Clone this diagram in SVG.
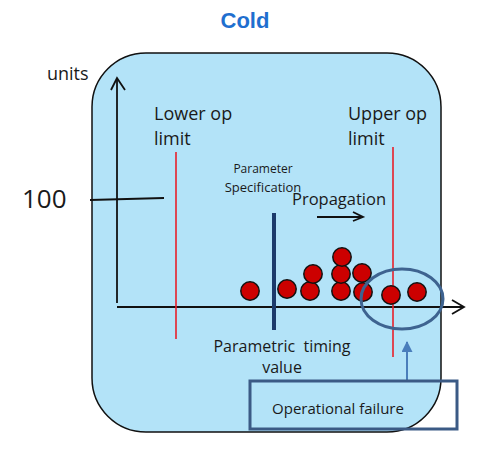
<svg xmlns="http://www.w3.org/2000/svg" width="504" height="460" viewBox="0 0 504 460">
<defs>
<style>
text{font-family:"Open Sans","Liberation Sans",sans-serif;fill:#1a1a1a}
.red{stroke:#e8202a;stroke-width:1.6;fill:none}
.ax{stroke:#111;stroke-width:1.8;fill:none}
.dot{fill:#cc0000;stroke:#111;stroke-width:1.5}
</style>
<marker id="tri" viewBox="0 0 10 10" refX="9" refY="5" markerWidth="6" markerHeight="5.5" orient="auto" markerUnits="strokeWidth">
<path d="M0,0 L10,5 L0,10 z" fill="#4a7ebb"/>
</marker>
</defs>
<rect width="504" height="460" fill="#ffffff"/>
<g id="panel">
<rect x="92" y="53" width="349" height="379" rx="54" ry="54" fill="#b3e3f8" stroke="#111" stroke-width="1.5"/>
</g>
<text id="title" x="245" y="28" text-anchor="middle" style="font-family:'Liberation Sans',sans-serif;font-weight:bold;font-size:22px;fill:#1f6fcf">Cold</text>
<g id="axes">
<line class="ax" x1="117" y1="79" x2="117" y2="303"/>
<polyline class="ax" points="111,90 117,78 125,90"/>
<line class="ax" x1="117" y1="307" x2="463" y2="307"/>
<polyline class="ax" points="452,300 464,307 452,314"/>
<text x="47" y="80" style="font-size:18px">units</text>
<text x="22" y="208" style="font-size:26px">100</text>
<line class="ax" x1="90" y1="200" x2="164" y2="198"/>
</g>
<g id="lower-limit">
<line class="red" x1="176" y1="152" x2="176" y2="339"/>
<text x="154" y="120" style="font-size:18px">Lower op</text>
<text x="154" y="145" style="font-size:18px">limit</text>
</g>
<g id="upper-limit">
<line class="red" x1="393" y1="147" x2="393" y2="357"/>
<text x="348" y="120" style="font-size:18px">Upper op</text>
<text x="348" y="145" style="font-size:18px">limit</text>
</g>
<g id="spec">
<line x1="274" y1="213" x2="274" y2="330" stroke="#1b3a6b" stroke-width="4"/>
<text x="263" y="173" text-anchor="middle" style="font-size:12px">Parameter</text>
<text x="263" y="192" text-anchor="middle" style="font-size:13px">Specification</text>
</g>
<g id="propagation">
<text x="292" y="205" style="font-size:16.5px">Propagation</text>
<line class="ax" x1="317" y1="217" x2="363" y2="217" stroke-width="1.5"/>
<polyline class="ax" points="353,212 363,217 353,221" stroke-width="1.5"/>
</g>
<g id="dots">
<circle class="dot" cx="250" cy="291" r="9.2"/>
<circle class="dot" cx="287" cy="289" r="9.2"/>
<circle class="dot" cx="310" cy="291" r="9.2"/>
<circle class="dot" cx="313" cy="274" r="9.2"/>
<circle class="dot" cx="341" cy="291" r="9.2"/>
<circle class="dot" cx="341" cy="274" r="9.2"/>
<circle class="dot" cx="342" cy="257" r="9.2"/>
<circle class="dot" cx="362" cy="273" r="9.2"/>
<circle class="dot" cx="363" cy="292" r="9.2"/>
<circle class="dot" cx="391" cy="295" r="9.2"/>
<circle class="dot" cx="417" cy="292" r="9.2"/>
</g>
<g id="failure-region">
<ellipse cx="402" cy="299" rx="41" ry="30" fill="none" stroke="#3e6390" stroke-width="3"/>
</g>
<g id="timing-label">
<text x="282" y="352" text-anchor="middle" xml:space="preserve" style="font-size:16px;white-space:pre">Parametric  timing</text>
<text x="282" y="373" text-anchor="middle" style="font-size:16px">value</text>
</g>
<g id="connectors">
<line x1="407" y1="380" x2="407" y2="342" stroke="#4a7ebb" stroke-width="2" marker-end="url(#tri)"/>
</g>
<g id="operational-failure">
<rect x="250" y="381" width="207" height="48" fill="none" stroke="#3b5a85" stroke-width="3"/>
<text x="338" y="414" text-anchor="middle" style="font-size:15px">Operational failure</text>
</g>
</svg>
